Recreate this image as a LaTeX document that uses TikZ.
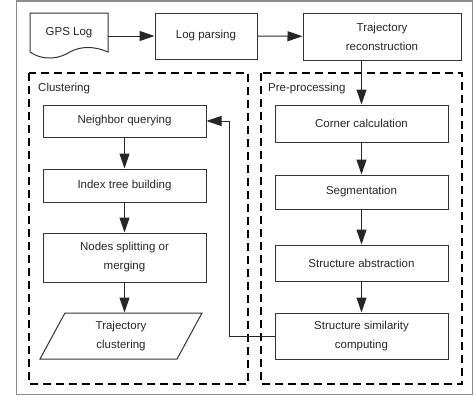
\documentclass[tikz,border=0pt]{standalone}
\usepackage{fontspec}
\setmainfont{Liberation Sans}
\usetikzlibrary{arrows.meta}
\usetikzlibrary{shapes.geometric}

\begin{document}
\begin{tikzpicture}[x=1pt, y=-1pt,
 txt/.style={text=black!85, align=center, inner sep=0pt, font=\fontsize{11.5}{19}\selectfont},
 box/.style={txt, draw=black!80, line width=1pt},
 arr/.style={black!85, line width=1pt, -{Triangle[length=15pt,width=10pt]}},
 group/.style={draw=black, line width=2.6pt, dash pattern=on 8pt off 5pt}]
\useasboundingbox (0,0) rectangle (474,413);
\draw[black!45, line width=1.5pt] (16.5,1) rectangle (472.5,394.5);
% input and parsing
\node[txt, minimum width=78pt, minimum height=40pt] (gps) at (69,33) {GPS Log};
\draw[black!80, line width=1pt] (30,52) -- (30,13) -- (108,13) -- (108,52)
 .. controls (95,46) and (80,46) .. (70,52) .. controls (60,58) and (45,62) .. (30,52);
\node[box, minimum width=102pt, minimum height=46pt] (parse) at (206,36) {Log parsing};
\node[box, minimum width=158pt, minimum height=47pt] (recon) at (382,36.5) {Trajectory\\reconstruction};
% the two stages
\draw[group] (29,73) rectangle (248,384);
\draw[group] (261,73) rectangle (462,384);
\node[txt, anchor=west] (clulabel) at (38,89) {Clustering};
\node[txt, anchor=west] (prelabel) at (268,89) {Pre-processing};
% clustering
\node[box, minimum width=163pt, minimum height=32pt] (neigh) at (124.5,121) {Neighbor querying};
\node[box, minimum width=163pt, minimum height=33pt] (index) at (124.5,185.5) {Index tree building};
\node[box, minimum width=163pt, minimum height=49pt] (split) at (124.5,257.5) {Nodes splitting or\\merging};
\node[box, trapezium, trapezium left angle=50, trapezium right angle=130, trapezium stretches body,
 minimum width=162pt, minimum height=46pt] (tclu) at (121,336) {Trajectory\\clustering};
% pre-processing
\node[box, minimum width=173pt, minimum height=37pt] (corner) at (361.5,123.5) {Corner calculation};
\node[box, minimum width=173pt, minimum height=34pt] (seg) at (361.5,192) {Segmentation};
\node[box, minimum width=173pt, minimum height=36pt] (abstr) at (361.5,263) {Structure abstraction};
\node[box, minimum width=173pt, minimum height=46pt] (simil) at (361.5,336) {Structure similarity\\computing};
% connectors
\draw[arr] (gps.east |- parse.west) -- (parse.west);
\draw[arr] (parse) -- (recon);
\draw[arr] (recon.south -| corner.north) -- (corner.north);
\foreach \a/\b in {corner/seg, seg/abstr, abstr/simil, neigh/index, index/split, split/tclu}
 \draw[arr] (\a.south) -- (\a.south |- \b.north);
\coordinate (fb) at (229,0);
\draw[arr] (simil.west) -- (simil.west -| fb) |- (neigh.east);
\end{tikzpicture}
\end{document}
